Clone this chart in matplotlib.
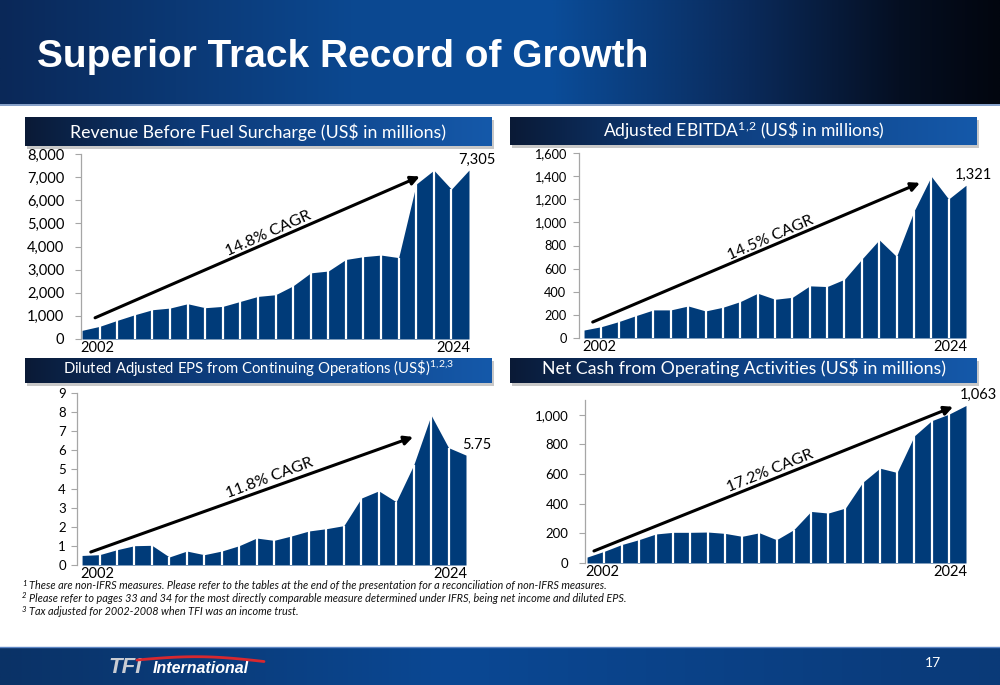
import matplotlib.pyplot as plt
import matplotlib.colors as mcolors
import numpy as np

# ---- data ----
years = np.arange(2002, 2025)
revenue = [374, 547, 806, 1050, 1266, 1338, 1525, 1353, 1410, 1626, 1842, 1914,
           2300, 2860, 2940, 3440, 3560, 3630, 3520, 6700, 7300, 6480, 7305]
ebitda = [69, 98, 142, 194, 243, 243, 277, 234, 266, 315, 387, 335,
          352, 451, 445, 508, 682, 849, 705, 1095, 1398, 1202, 1321]
eps = [0.50, 0.54, 0.80, 1.01, 1.03, 0.42, 0.73, 0.54, 0.73, 1.01, 1.41, 1.29,
       1.52, 1.78, 1.90, 2.06, 3.50, 3.88, 3.31, 5.23, 7.84, 6.14, 5.75]
net_cash = [40, 79, 124, 157, 196, 207, 207, 209, 200, 180, 204, 157,
            225, 348, 337, 371, 544, 640, 611, 858, 960, 1004, 1063]

titles = ["Revenue Before Fuel Surcharge (US$ in millions)",
          r"Adjusted EBITDA$^{1,\!2}$ (US\$ in millions)",
          r"Diluted Adjusted EPS from Continuing Operations (US\$)$^{1,\!2,\!3}$",
          "Net Cash from Operating Activities (US$ in millions)"]
cagr = ["14.8% CAGR", "14.5% CAGR", "11.8% CAGR", "17.2% CAGR"]
end_labels = ["7,305", "1,321", "5.75", "1,063"]
footnotes = ["These are non-IFRS measures. Please refer to the tables at the end of the presentation for a reconciliation of non-IFRS measures.",
             "Please refer to pages 33 and 34 for the most directly comparable measure determined under IFRS, being net income and diluted EPS.",
             "Tax adjusted for 2002-2008 when TFI was an income trust."]

NAVY = "#003B79"

plt.rcParams.update({
    "font.family": "Lato",
    "mathtext.fontset": "custom",
    "mathtext.rm": "Lato",
    "mathtext.it": "Lato:italic",
    "mathtext.bf": "Lato:bold",
})

W, H = 1000, 685
fig = plt.figure(figsize=(W / 100, H / 100), dpi=100)

# background layer in pixel coordinates
bg = fig.add_axes([0, 0, 1, 1], zorder=-5)
bg.set_axis_off()


def hgrad(x0, x1, y0, y1, stops, z=0):
    pos = [s[0] for s in stops]
    cols = np.array([mcolors.to_rgb(s[1]) for s in stops])
    t = np.linspace(0, 1, 400)
    img = np.stack([np.interp(t, pos, cols[:, k]) for k in range(3)], axis=-1)[None]
    bg.imshow(img, extent=(x0, x1, y1, y0), aspect="auto",
              interpolation="bilinear", zorder=z)


# header
hgrad(0, 1000, 0, 104, [(0, "#0a2858"), (0.35, "#0c4890"), (0.55, "#0a4d9a"),
                        (0.75, "#0a2a5a"), (0.9, "#050f22"), (1, "#02060f")])
bg.plot([0, 1000], [104.5, 104.5], color="#6f8fbf", lw=1.2, zorder=2)
bg.text(37, 67, "Superior Track Record of Growth", color="white", fontsize=28,
        fontweight="bold", family="Liberation Sans", va="baseline", ha="left")

# banners
banner_boxes = [(25, 492, 117, 146), (510, 977, 117, 145),
                (25, 492, 358, 383), (510, 977, 358, 383)]
banner_base = [138, 137, 374, 374]
banner_size = [12.8, 12.6, 10.7, 12.8]
for (x0, x1, y0, y1), t, yb, fs in zip(banner_boxes, titles, banner_base, banner_size):
    bg.fill([x0 + 2, x1 + 2, x1 + 2, x0 + 2], [y0 + 3, y0 + 3, y1 + 3, y1 + 3],
            color="#c8c8c8", lw=0, zorder=0)
    hgrad(x0, x1, y0, y1, [(0, "#0a1a36"), (0.35, "#0d3a78"), (1, "#1559aa")], z=1)
    bg.text((x0 + x1) / 2, yb, t, color="white", fontsize=fs, ha="center",
            va="baseline", zorder=3)

# footer
hgrad(0, 1000, 647, 685, [(0, "#0a3266"), (0.45, "#0a4894"), (1, "#0a3a78")])
bg.plot([0, 1000], [647, 647], color="#5d86c4", lw=1, zorder=2)
bg.text(108, 673, "TFI", color="#c9ccd3", fontsize=16, fontweight="bold",
        fontstyle="italic", family="Liberation Sans", va="baseline", zorder=3)
bg.text(153, 673, "International", color="white", fontsize=11.5, fontweight="bold",
        fontstyle="italic", family="Liberation Sans", va="baseline", zorder=3)
sx = np.linspace(137, 264, 50)
bg.plot(sx, 660 - 4 * np.sin(np.pi * (sx - 137) / 127) + 1.5 * (sx - 137) / 127,
        color="#d8282f", lw=2, zorder=3, solid_capstyle="round")
bg.text(933, 663, "17", color="white", fontsize=10, ha="center", va="center")

# footnotes
for i, note in enumerate(footnotes):
    yb = 589 + 13 * i
    bg.text(22, yb - 3.5, str(i + 1), fontsize=5.5, fontstyle="italic", va="baseline")
    bg.text(29, yb, note, fontsize=7.8, fontstyle="italic", va="baseline",
            color="#111111")

bg.set_xlim(0, W)
bg.set_ylim(H, 0)


def px_rect(left, right, bottom, top):
    return [left / W, (H - bottom) / H, (right - left) / W, (bottom - top) / H]


panels = [
    dict(vals=revenue, rect=px_rect(81, 469, 339, 154), xl=2001.94, ylim=8000,
         ticks=np.arange(0, 8001, 1000), fmt="{:,.0f}", ts=10.5, pad=8,
         start=(2002.74, 917), end=(2021.2, 7030), txt=(2012.57, 4541), rot=24,
         off=(8, 10)),
    dict(vals=ebitda, rect=px_rect(579, 966, 338, 153), xl=2001.71, ylim=1600,
         ticks=np.arange(0, 1601, 200), fmt="{:,.0f}", ts=9.2, pad=5,
         start=(2002.5, 138), end=(2021.35, 1342), txt=(2012.77, 866), rot=23.5,
         off=(7, 10)),
    dict(vals=eps, rect=px_rect(77, 466, 565, 393), xl=2001.71, ylim=9,
         ticks=np.arange(0, 10, 1), fmt="{:.0f}", ts=9.5, pad=4,
         start=(2002.5, 0.68), end=(2020.97, 6.70), txt=(2012.72, 4.55), rot=20.5,
         off=(11, 10)),
    dict(vals=net_cash, rect=px_rect(585, 966, 563, 400), xl=2001.88, ylim=1100,
         ticks=np.arange(0, 1001, 200), fmt="{:,.0f}", ts=9.5, pad=8,
         start=(2002.4, 81), end=(2023.25, 1054), txt=(2012.62, 622), rot=22,
         off=(12, 11)),
]

for p, lab, endlab in zip(panels, cagr, end_labels):
    ax = fig.add_axes(p["rect"])
    ax.patch.set_alpha(0)
    v = np.array(p["vals"], dtype=float)
    ax.fill_between(years, 0, v, color=NAVY, lw=0, zorder=1)
    ax.vlines(years[1:-1], 0, v[1:-1], color="white", lw=1.6, zorder=2)
    ax.set_xlim(p["xl"], 2024)
    ax.set_ylim(0, p["ylim"])
    ax.set_yticks(p["ticks"])
    ax.set_yticklabels([p["fmt"].format(t) for t in p["ticks"]])
    ax.set_xticks([])
    for s in ["top", "right", "bottom"]:
        ax.spines[s].set_visible(False)
    ax.spines["left"].set_color("#a6a6a6")
    ax.spines["left"].set_linewidth(0.9)
    ax.tick_params(axis="y", length=4, width=0.8, color="#a6a6a6",
                   labelsize=p["ts"], pad=p["pad"], labelcolor="black")

    ax.annotate("", xy=p["end"], xytext=p["start"],
                arrowprops=dict(arrowstyle="-|>", color="black", lw=2.2,
                                mutation_scale=13, shrinkA=0, shrinkB=0), zorder=4)
    ax.text(p["txt"][0], p["txt"][1], lab, rotation=p["rot"], ha="center",
            va="center", rotation_mode="anchor", fontsize=11.5, zorder=4)
    ax.annotate(endlab, xy=(years[-1], v[-1]), xytext=p["off"],
                textcoords="offset pixels", ha="center", va="center",
                fontsize=10.5, annotation_clip=False)
    ax.annotate("2002", xy=(years[0], 0), xycoords=("data", "axes fraction"),
                xytext=(-2, -2), textcoords="offset pixels", ha="left", va="top",
                fontsize=10.5, annotation_clip=False)
    ax.annotate("2024", xy=(years[-1], 0), xycoords=("data", "axes fraction"),
                xytext=(1, -2), textcoords="offset pixels", ha="right", va="top",
                fontsize=10.5, annotation_clip=False)

fig.savefig("out.png", dpi=100)
